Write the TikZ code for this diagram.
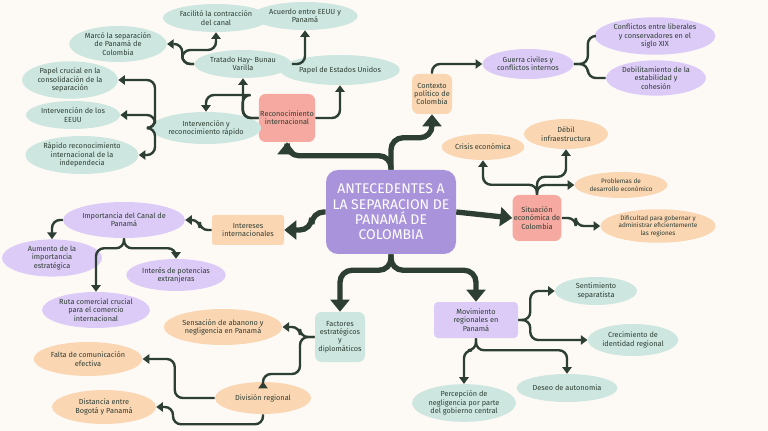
\documentclass[tikz,border=0pt]{standalone}
\usepackage{fontspec}
\setmainfont{Fira Sans}
\usetikzlibrary{arrows.meta,shapes.geometric}
\definecolor{bg}{HTML}{FDFAF6}
\definecolor{ln}{HTML}{2D3E33}
\definecolor{teal}{HTML}{CDE6E0}
\definecolor{lila}{HTML}{DCCAF7}
\definecolor{lilad}{HTML}{A994DB}
\definecolor{peach}{HTML}{FBD6B3}
\definecolor{pink}{HTML}{F5A9A0}

\begin{document}
\begin{tikzpicture}[x=0.75pt,y=-0.75pt,
    every node/.style={font=\fontsize{5.5}{6.2}\selectfont,text=ln,align=center,inner sep=1pt},
    el/.style={ellipse,minimum width=#1*0.75pt},
    box/.style={rounded corners=5pt,minimum width=#1*0.75pt},
    link/.style={draw=ln,line width=1.8pt,rounded corners=6pt,-{Triangle[length=5pt,width=7pt]}},
    plain/.style={draw=ln,line width=1.8pt,rounded corners=6pt},
    big/.style={draw=ln,line width=4pt,rounded corners=9pt,-{Triangle[length=9pt,width=14pt]}}]
  \fill[bg] (0,0) rectangle (768,431);
  \useasboundingbox (0,0) rectangle (768,431);

  % centre
  \node[box=130,fill=lilad,minimum height=84*0.75pt,rounded corners=9pt,text=white,
        font=\fontsize{10.5}{11.5}\selectfont] (c) at (391,212)
        {ANTECEDENTES A\\LA SEPARACION DE\\PANAMÁ DE\\COLOMBIA};

  % reconocimiento internacional
  \node[box=50,fill=pink,minimum height=48*0.75pt] (r) at (287,118) {Reconocimiento\\internacional};
  \node[el=85,fill=teal,minimum height=28*0.75pt] (trat) at (243,64) {Tratado Hay- Bunau\\Varilla};
  \node[el=93,fill=teal,minimum height=36*0.75pt] (marco) at (118,44) {Marcó la separación\\de Panamá de\\Colombia};
  \node[el=85,fill=teal,minimum height=28*0.75pt] (faci) at (216,18) {Facilitó la contracción\\del canal};
  \node[el=85,fill=teal,minimum height=28*0.75pt] (acu) at (305,16) {Acuerdo entre EEUU y\\Panamá};
  \node[el=88,fill=teal,minimum height=30*0.75pt] (pap) at (340,70) {Papel de Estados Unidos};
  \node[el=88,fill=teal,minimum height=32*0.75pt] (iv) at (206,128) {Intervención y\\reconocimiento rápido};
  \node[el=96,fill=teal,minimum height=36*0.75pt] (pc) at (70,80) {Papel crucial en la\\consolidación de la\\separación};
  \node[el=85,fill=teal,minimum height=28*0.75pt] (ie) at (73,115) {Intervención de los\\EEUU};
  \node[el=95,fill=teal,minimum height=38*0.75pt] (rap) at (82,155) {Rápido reconocimiento\\internacional de la\\independecia};

  % contexto politico
  \node[box=40,fill=peach,minimum height=40*0.75pt] (ctx) at (432,94) {Contexto\\político de\\Colombia};
  \node[el=83,fill=lila,minimum height=30*0.75pt] (gu) at (528,64) {Guerra civiles y\\conflictos internos};
  \node[el=105,fill=lila,minimum height=35*0.75pt] (co) at (655,36) {Conflictos entre liberales\\y conservadores en el\\siglo XIX};
  \node[el=100,fill=lila,minimum height=34*0.75pt] (dbl) at (656,78) {Debilitamiento de la\\estabilidad y\\cohesión};

  % situacion economica
  \node[box=48,fill=pink,minimum height=46*0.75pt] (sit) at (537,218) {Situación\\económica de\\Colombia};
  \node[el=72,fill=peach,minimum height=26*0.75pt] (cr) at (483,147) {Crisis económica};
  \node[el=84,fill=peach,minimum height=30*0.75pt] (deb) at (566,134) {Débil\\infraestructura};
  \node[el=78,fill=peach,minimum height=26*0.75pt,font=\fontsize{4.8}{5.5}\selectfont] (pr) at (621,185) {Problemas de\\desarrollo económico};
  \node[el=93,fill=peach,minimum height=32*0.75pt,font=\fontsize{4.8}{5.5}\selectfont] (dif) at (658,226) {Dificultad para gobernar y\\administrar eficientemente\\las regiones};

  % intereses internacionales
  \node[box=72,fill=peach,minimum height=30*0.75pt,rounded corners=2pt] (ii) at (248,230) {Intereses\\internacionales};
  \node[el=105,fill=lila,minimum height=36*0.75pt] (imp) at (124,220) {Importancia del Canal de\\Panamá};
  \node[el=100,fill=lila,minimum height=34*0.75pt] (aum) at (52,258) {Aumento de la\\importancia\\estratégica};
  \node[el=95,fill=lila,minimum height=32*0.75pt] (ip) at (176,275) {Interés de potencias\\extranjeras};
  \node[el=105,fill=lila,minimum height=36*0.75pt] (ruta) at (96,310) {Ruta comercial crucial\\para el comercio\\internacional};

  % factores
  \node[box=50,fill=teal,minimum height=50*0.75pt] (fac) at (340,337) {Factores\\estratégicos\\y\\diplomáticos};
  \node[el=105,fill=peach,minimum height=36*0.75pt] (sen) at (223,327) {Sensación de abanono y\\negligencia en Panamá};
  \node[el=96,fill=peach,minimum height=32*0.75pt] (div) at (263,398) {División regional};
  \node[el=105,fill=peach,minimum height=34*0.75pt] (fal) at (88,359) {Falta de comunicación\\efectiva};
  \node[el=104,fill=peach,minimum height=34*0.75pt] (dis) at (104,407) {Distancia entre\\Bogotá y Panamá};

  % movimiento regionales
  \node[box=84,fill=lila,minimum height=36*0.75pt,rounded corners=3pt] (mov) at (476,320) {Movimiento\\regionales en\\Panamá};
  \node[el=82,fill=teal,minimum height=28*0.75pt] (sep) at (596,291) {Sentimiento\\separatista};
  \node[el=90,fill=teal,minimum height=32*0.75pt] (cre) at (633,340) {Crecimiento de\\identidad regional};
  \node[el=82,fill=teal,minimum height=28*0.75pt] (des) at (567,388) {Deseo de autonomia};
  \node[el=100,fill=teal,minimum height=34*0.75pt] (per) at (464,403) {Percepción de\\negligencia por parte\\del gobierno central};

  % main branches
  \draw[big] (c.north) -- ++(0,-14) -| (r.south);
  \draw[big] (c.north) -- ++(0,-32) -| (ctx.south);
  \draw[big] (c.east) -- (sit.west);
  \draw[big] (c.west) -- ++(-14,0) |- (ii.east);
  \draw[big] (c.south) -- ++(0,16) -| (fac.north);
  \draw[big] (c.south) -- ++(0,16) -| (mov.north);

  % reconocimiento
  \coordinate (j0) at (245,95);
  \draw[link] (r.west) -| (trat.south);
  \draw[link] (r.west) -- ++(-16,0) |- (j0) -| (iv.north);
  \draw[link] (r.east) -| (pap.south);
  \draw[link] (trat.west) -- ++(-12,0) |- (marco.east);
  \draw[link] (trat.west) -- ++(-12,0) -- ++(0,-14) -| (faci.south);
  \draw[link] (trat.east) -| (acu.south);
  \coordinate (j1) at (155,128);
  \draw[link] (iv.west) -- (j1) |- (pc.east);
  \draw[link] (iv.west) -- (j1) |- (ie.east);
  \draw[link] (iv.west) -- (j1) |- (rap.east);

  % contexto
  \draw[link] (ctx.north) |- (gu.west);
  \draw[plain] (gu.east) -- ++(14,0) |- (co.west);
  \draw[plain] (gu.east) -- ++(14,0) |- (dbl.west);

  % situacion
  \draw[link] (sit.north) -- ++(0,-10) -| (cr.south);
  \draw[link] (sit.north) -- ++(0,-18) -| (deb.south);
  \draw[link] (sit.north) |- (pr.west);
  \draw[link] (sit.east) -- ++(14,0) |- (dif.west);

  % intereses
  \draw[link] (ii.west) -- ++(-12,0) |- (imp.east);
  \draw[link] (imp.west) -| (aum.north);
  \draw[link] (imp.south) -- ++(0,10) -| (ip.north);
  \draw[link] (imp.south) -- ++(0,10) -| (ruta.north);

  % factores
  \coordinate (j2) at (300,337);
  \draw[link] (fac.west) -- (j2) |- (sen.east);
  \draw[link] (fac.west) -- (j2) |- (263,374) -- (div.north);
  \draw[link] (div.west) -- ++(-40,0) |- (fal.east);
  \draw[link] (div.south) -- ++(0,10) -- ++(-90,0) |- (dis.east);

  % movimiento
  \draw[link] (mov.east) -- ++(12,0) |- (sep.west);
  \draw[link] (mov.east) -- ++(12,0) |- (cre.west);
  \draw[link] (mov.south) -- ++(0,12) -| (per.north);
  \draw[link] (mov.south) -- ++(0,12) -| (des.north);
\end{tikzpicture}
\end{document}
